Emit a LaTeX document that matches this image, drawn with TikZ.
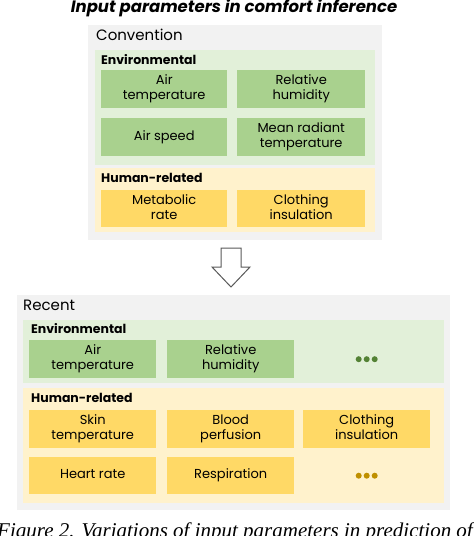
\documentclass[tikz,border=0pt]{standalone}
\usepackage{fontspec}
\setmainfont{Poppins}
\newfontfamily\capfont{Liberation Serif}
\definecolor{panelgray}{HTML}{F2F2F2}
\definecolor{envbg}{HTML}{E2F0D9}
\definecolor{envbox}{HTML}{A9D18E}
\definecolor{envdot}{HTML}{548235}
\definecolor{humbg}{HTML}{FFF2CC}
\definecolor{humbox}{HTML}{FFD966}
\definecolor{humdot}{HTML}{BF9000}
\definecolor{arrowgray}{HTML}{595959}

\begin{document}
\begin{tikzpicture}[x=1pt, y=-1pt,
    panel/.style={fill=panelgray, anchor=north west, inner sep=0pt},
    envgroup/.style={fill=envbg, anchor=north west, inner sep=0pt},
    humgroup/.style={fill=humbg, anchor=north west, inner sep=0pt},
    param/.style={anchor=north west, inner sep=0pt, align=center, text depth=3.5pt,
      minimum width=127pt, minimum height=38pt, font=\fontsize{13}{15}\selectfont},
    envparam/.style={param, fill=envbox},
    humparam/.style={param, fill=humbox},
    grouplabel/.style={anchor=west, inner sep=0pt, font=\bfseries\fontsize{12.5}{14}\selectfont},
    panellabel/.style={anchor=west, inner sep=0pt, font=\fontsize{15}{17}\selectfont}]

  \useasboundingbox (0,0) rectangle (474,536);

  \node[anchor=center, font=\bfseries\itshape\fontsize{16.5}{18}\selectfont] (title) at (234,8) {Input parameters in comfort inference};

  % convention
  \node[panel, minimum width=294pt, minimum height=215pt] (conv) at (88,25) {};
  \node[panellabel] (convlbl) at (96,35) {Convention};
  \node[envgroup, minimum width=280pt, minimum height=115pt] (convenv) at (95,50) {};
  \node[grouplabel] (convenvlbl) at (101,60) {Environmental};
  \node[envparam, minimum width=126pt] (airt) at (101,70) {Air\\temperature};
  \node[envparam, minimum width=128pt] (relh) at (237,70) {Relative\\humidity};
  \node[envparam, minimum width=126pt] (airs) at (101,118) {Air speed};
  \node[envparam, minimum width=128pt] (mrt) at (237,118) {Mean radiant\\temperature};
  \node[humgroup, minimum width=280pt, minimum height=64pt] (convhum) at (95,168) {};
  \node[grouplabel] (convhumlbl) at (101,178) {Human-related};
  \node[humparam, minimum width=126pt, minimum height=37pt] (met) at (101,190) {Metabolic\\rate};
  \node[humparam, minimum width=128pt, minimum height=37pt] (clo) at (237,190) {Clothing\\insulation};

  % block arrow
  \draw[arrowgray, fill=white, line width=1pt, line join=miter]
    (221,248) -- (241,248) -- (241,267) -- (250,267) -- (231,287)
    -- (212,267) -- (221,267) -- cycle;

  % recent
  \node[panel, minimum width=433pt, minimum height=215pt] (rec) at (17,295) {};
  \node[panellabel] (reclbl) at (23,305) {Recent};
  \node[envgroup, minimum width=421pt, minimum height=63pt] (recenv) at (23,320) {};
  \node[grouplabel] (recenvlbl) at (31,329) {Environmental};
  \node[envparam] (airt2) at (29,340) {Air\\temperature};
  \node[envparam] (relh2) at (167,340) {Relative\\humidity};
  \node[envparam, fill=none] (envmore) at (303,340) {};
  \foreach \dx in {-8,0,8}
    \fill[envdot] ([xshift=\dx pt]envmore.center) circle [radius=3pt];
  \node[humgroup, minimum width=421pt, minimum height=115pt] (rechum) at (23,388) {};
  \node[grouplabel] (rechumlbl) at (31,398) {Human-related};
  \node[humparam] (skin) at (29,410) {Skin\\temperature};
  \node[humparam] (blood) at (167,410) {Blood\\perfusion};
  \node[humparam] (clo2) at (303,410) {Clothing\\insulation};
  \node[humparam, minimum height=37pt] (heart) at (29,457) {Heart rate};
  \node[humparam, minimum height=37pt] (resp) at (167,457) {Respiration};
  \node[humparam, minimum height=37pt, fill=none] (hummore) at (303,457) {};
  \foreach \dx in {-8,0,8}
    \fill[humdot] ([xshift=\dx pt]hummore.center) circle [radius=3pt];

  \node[anchor=base west, inner sep=0pt, font=\capfont\itshape\fontsize{21}{23}\selectfont] (caption) at (-3,537) {Figure 2. Variations of input parameters in prediction of};
\end{tikzpicture}
\end{document}
